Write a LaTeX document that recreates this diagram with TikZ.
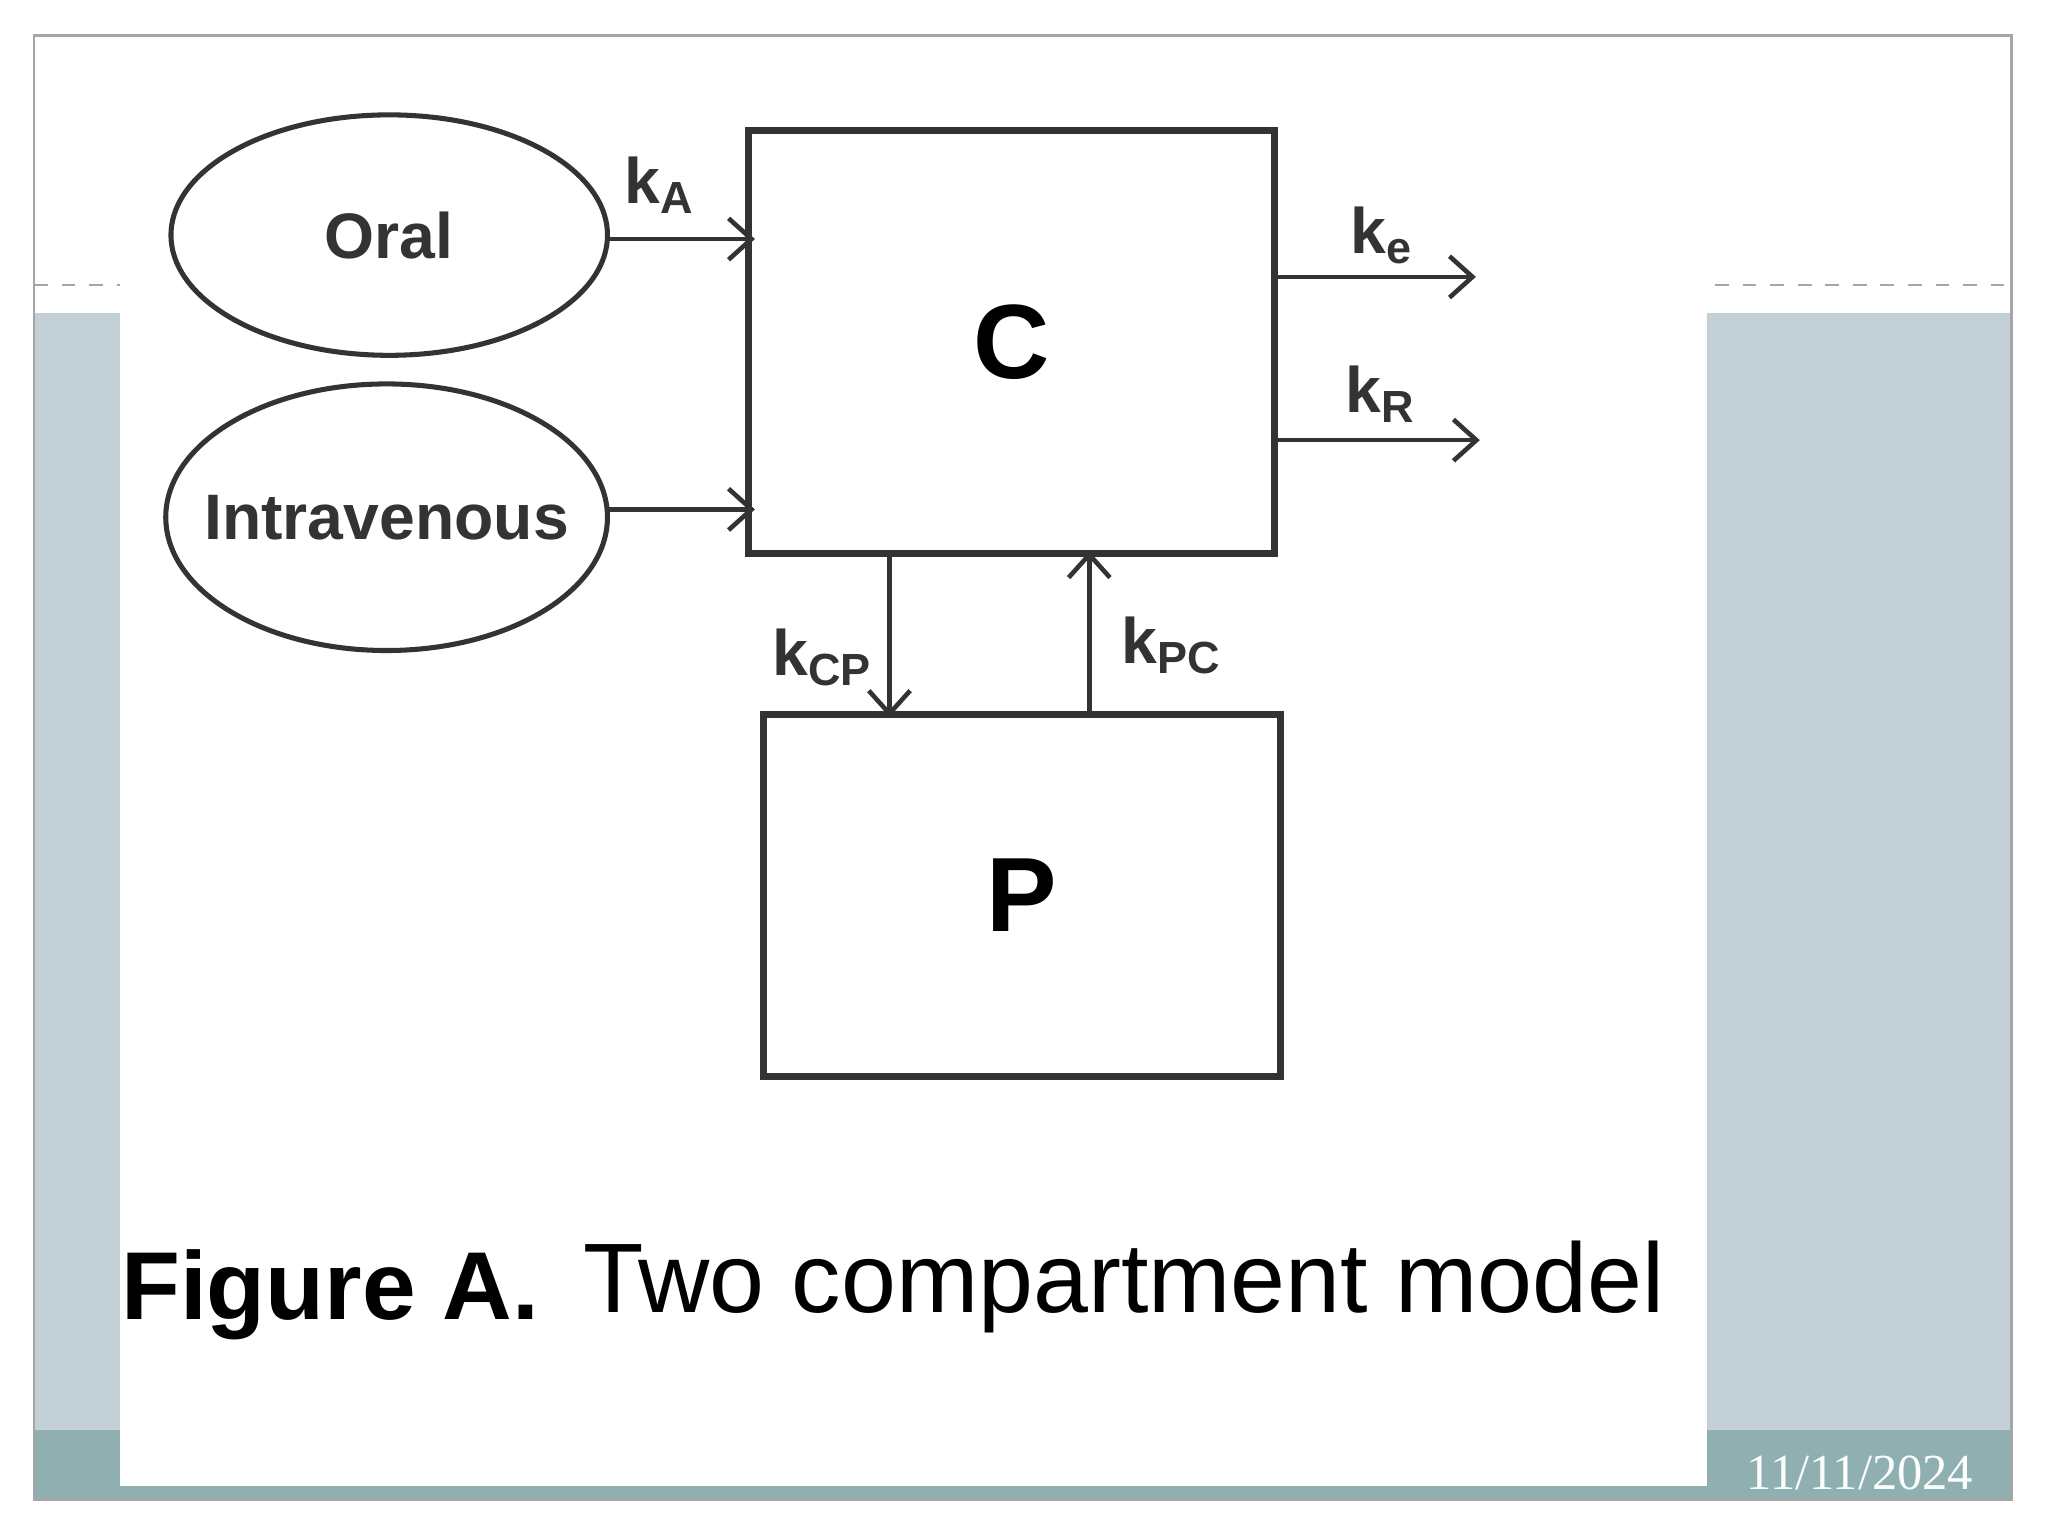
\documentclass[tikz,border=0pt]{standalone}
\usepackage{fontspec}
\setmainfont{Liberation Sans}
\newfontfamily\datefont{Liberation Serif}
\usetikzlibrary{arrows.meta,shapes.geometric}
\definecolor{slidegrey}{HTML}{C3D0D5}
\definecolor{slideband}{HTML}{8FAFB1}
\definecolor{inkgrey}{HTML}{333333}
\tikzset{
  box/.style={draw=inkgrey,line width=1.5pt},
  oval/.style={draw=inkgrey,line width=1.1pt,ellipse,inner sep=0pt},
  ovaltext/.style={font=\bfseries\fontsize{14}{14}\selectfont,text=inkgrey,inner sep=0pt},
  flow/.style={draw=inkgrey,line width=1pt,-{Straight Barb[length=5pt,width=9pt]}},
  klab/.style={font=\bfseries\fontsize{14}{14}\selectfont,text=inkgrey,inner sep=0pt},
}
\begin{document}
\begin{tikzpicture}[x=0.01cm,y=-0.01cm]
\useasboundingbox (0,0) rectangle (1568,1176);
\fill[white] (0,0) rectangle (1568,1176);
% slide background
\fill[slidegrey] (26,240) rectangle (1540,1095);
\fill[slideband] (26,1095) rectangle (1540,1148);
\draw[gray!70,line width=0.6pt] (26,27) rectangle (1540,1148);
\draw[gray!70,dashed,line width=0.5pt] (26,218) -- (1540,218);
\fill[white] (92,62) rectangle (1307,1138);
\node[text=white!95!slidegrey,font=\datefont\fontsize{11}{11}\selectfont] (date) at (1424,1128) {11/11/2024};
% diagram
\node[oval,minimum width=3.34cm,minimum height=1.84cm] (oral) at (298,180) {};
\node[ovaltext] (oraltxt) at (oral.center) {Oral};
\node[oval,minimum width=3.38cm,minimum height=2.04cm] (iv) at (296,396) {};
\node[ovaltext] (ivtxt) at (iv.center) {Intravenous};
\node[box,minimum width=4.03cm,minimum height=3.24cm,font=\bfseries\fontsize{23}{23}\selectfont] (C) at (774.5,262) {C};
\node[box,minimum width=3.95cm,minimum height=2.77cm,font=\bfseries\fontsize{23}{23}\selectfont] (P) at (782.5,685.5) {P};
\coordinate (oe) at (465,183); \coordinate (ce1) at (578,183);
\coordinate (ie) at (465,390); \coordinate (ce2) at (578,390);
\draw[flow] (oe) -- (ce1);
\draw[flow] (ie) -- (ce2);
\node[klab] (kA) at (505,142) {k\textsubscript{A}};
\coordinate (c1) at (976,212); \coordinate (e1) at (1130,212);
\coordinate (c2) at (976,337); \coordinate (e2) at (1133,337);
\draw[flow] (c1) -- (e1);
\draw[flow] (c2) -- (e2);
\node[klab] (ke) at (1058,180) {k\textsubscript{e}};
\node[klab] (kR) at (1057,302) {k\textsubscript{R}};
\coordinate (cb) at (681,424); \coordinate (pt) at (681,549);
\coordinate (pb) at (834,547); \coordinate (ct) at (834,422);
\draw[flow] (cb) -- (pt);
\draw[flow] (pb) -- (ct);
\node[klab] (kcp) at (630,503) {k\textsubscript{CP}};
\node[klab] (kpc) at (897,494) {k\textsubscript{PC}};
% caption
\node[anchor=base west,inner sep=0pt,font=\bfseries\fontsize{21}{21}\selectfont] (figA) at (92,1010) {Figure A.};
\node[anchor=base west,inner sep=0pt,font=\fontsize{21.5}{21.5}\selectfont] (title) at (446,1005) {Two compartment model};
\end{tikzpicture}
\end{document}
